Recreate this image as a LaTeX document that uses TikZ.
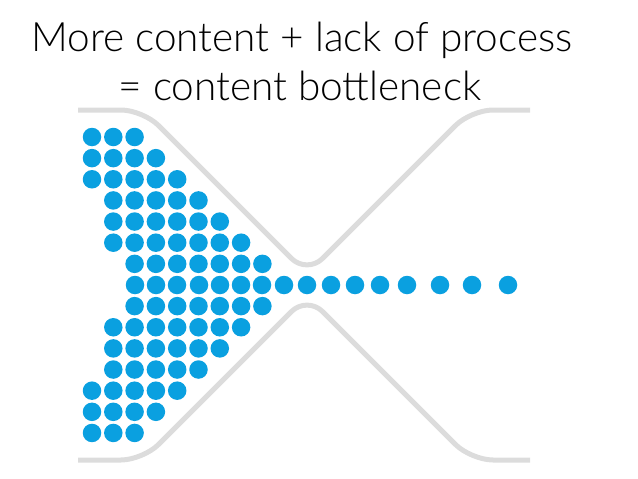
\documentclass[tikz,border=0pt]{standalone}
\usepackage{fontspec}
\setmainfont{Lato Light}
\begin{document}
\begin{tikzpicture}[x=1pt,y=-1pt,
  dot/.style={circle,fill=dotblue,inner sep=0pt,minimum size=18.5pt},
  wall/.style={draw=wallgray,line width=5pt,rounded corners=22pt},
  ttl/.style={font=\fontsize{40.5}{44}\selectfont,inner sep=0pt}]
\definecolor{dotblue}{HTML}{0AA0E0}
\definecolor{wallgray}{HTML}{DCDCDC}
\useasboundingbox (0,0) rectangle (638,479);
\node[ttl] (t1) at (302,40) {More content + lack of process};
\node[ttl] (t2) at (300,86) {= content bottleneck};
\path[wall] (78,110) -- (143,110) -- (307,274) -- (471,110) -- (530,110);
\path[wall] (78,460) -- (143,460) -- (307,296) -- (471,460) -- (530,460);
% rows: start column, count
\foreach \r/\s/\n in {0/0/3,1/0/4,2/0/5,3/1/5,4/1/6,5/1/7,6/2/7,8/2/7,9/1/7,10/1/6,11/1/5,12/0/5,13/0/4,14/0/3}{
  \foreach \c in {1,...,\n}{
    \node[dot] (d\r-\c) at ({92+21.3*(\s+\c-1)},{137+21.14*\r}) {};
  }
}
\foreach \x [count=\i] in {135,156,177,199,220,241,262,284,307,331,355,380,407,440,472,508}{
  \node[dot] (m\i) at (\x,285) {};
}
\end{tikzpicture}
\end{document}
